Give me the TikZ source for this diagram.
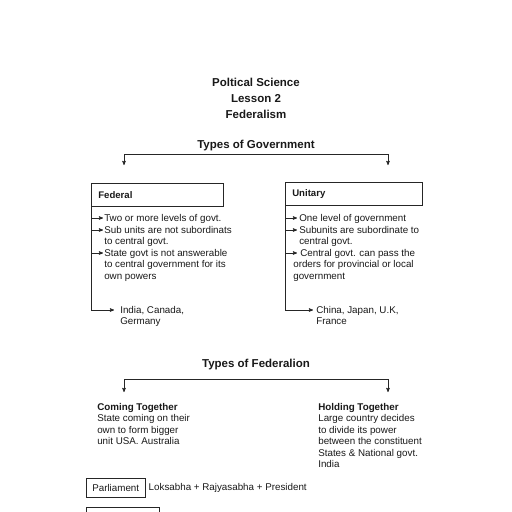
\documentclass[tikz,border=0pt]{standalone}
\usepackage{fontspec}
\setmainfont{Liberation Sans}
\usetikzlibrary{positioning, arrows}

\begin{document}
\begin{tikzpicture}[->,>=stealth',x=1pt,y=-1pt,line width=0.6pt,draw=black!85,text=black!90,
    heading/.style={font=\fontsize{11.5}{16}\selectfont\bfseries,align=center,inner sep=0pt},
    body/.style={font=\fontsize{9.8}{11.5}\selectfont,align=left,inner sep=0pt,anchor=north west},
    typebox/.style={draw,-,anchor=north west,minimum height=23pt,inner xsep=7pt,align=left,
        font=\fontsize{9.6}{11.5}\selectfont\bfseries},
    labelbox/.style={draw,-,anchor=north west,minimum height=19pt,inner xsep=6pt,
        font=\fontsize{9.8}{11.5}\selectfont}]
    \useasboundingbox (0,0) rectangle (512,512);
    \clip (0,0) rectangle (512,512);

    % headings
    \node[heading] (title) at (256,98) {Poltical Science\\Lesson 2\\Federalism};
    \node[heading] (tgov) at (256,146) {Types of Government};
    \node[heading] (tfed) at (256,365) {Types of Federalion};

    % types of government
    \node[typebox,text width=118pt] (fed) at (91,183) {Federal};
    \node[typebox,text width=123pt] (uni) at (285,182) {Unitary};

    \coordinate (gl) at (124,165);
    \coordinate (gr) at (388,165);
    \draw[<->] (gl) -- ++(0,-11) -| (gr);

    \node[body] (f1) at (104,214) {Two or more levels of govt.};
    \node[body] (f2) at (104,226) {Sub units are not subordinats\\to central govt.};
    \node[body] (f3) at (104,249) {State govt is not answerable\\to central government for its\\own powers};
    \node[body] (fex) at (120,306) {India, Canada,\\Germany};

    \node[body] (u1) at (299,214) {One level of government};
    \node[body] (u2) at (299,226) {Subunits are subordinate to\\central govt.};
    \node[body] (u3) at (293,249) {\hspace*{7pt}Central govt. can pass the\\orders for provincial or local\\government};
    \node[body] (uex) at (316,306) {China, Japan, U.K,\\France};

    % arrow ends, on the first line of each text
    \coordinate (f1t) at ([xshift=-1pt,yshift=-4pt]f1.north west);
    \coordinate (f2t) at ([xshift=-1pt,yshift=-4pt]f2.north west);
    \coordinate (f3t) at ([xshift=-1pt,yshift=-4pt]f3.north west);
    \coordinate (fext) at ([xshift=-6pt,yshift=-4pt]fex.north west);
    \coordinate (u1t) at ([xshift=-2pt,yshift=-4pt]u1.north west);
    \coordinate (u2t) at ([xshift=-2pt,yshift=-4pt]u2.north west);
    \coordinate (u3t) at ([xshift=4pt,yshift=-4pt]u3.north west);
    \coordinate (uext) at ([xshift=-3pt,yshift=-4pt]uex.north west);

    \draw (fed.south west) |- (fext);
    \draw (fed.south west |- f1t) -- (f1t);
    \draw (fed.south west |- f2t) -- (f2t);
    \draw (fed.south west |- f3t) -- (f3t);

    \draw (uni.south west) |- (uext);
    \draw (uni.south west |- u1t) -- (u1t);
    \draw (uni.south west |- u2t) -- (u2t);
    \draw (uni.south west |- u3t) -- (u3t);

    % types of federation
    \coordinate (hl) at (124,392);
    \coordinate (hr) at (388,392);
    \draw[<->] (hl) -- ++(0,-13) -| (hr);

    \node[body] (come) at (97,403) {\textbf{Coming Together}\\State coming on their\\own to form bigger\\unit USA. Australia};
    \node[body] (hold) at (318,403) {\textbf{Holding Together}\\Large country decides\\to divide its power\\between the constituent\\States \& National govt.\\India};

    % parliament
    \node[labelbox] (parl) at (86,478) {Parliament};
    \node[font=\fontsize{9.8}{11.5}\selectfont,inner sep=0pt] (parltxt) [right=3pt of parl] {Loksabha + Rajyasabha + President};
    \node[labelbox,minimum width=73pt] (pm) at (86,507) {};
\end{tikzpicture}
\end{document}
